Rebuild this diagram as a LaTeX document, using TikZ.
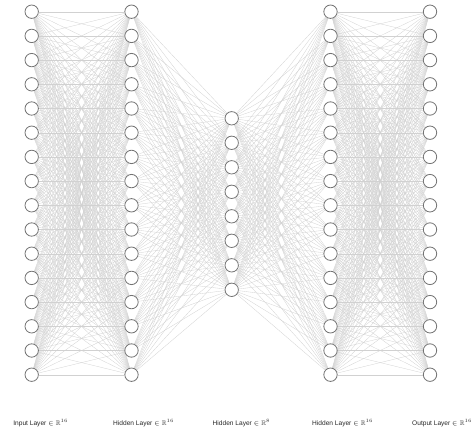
\documentclass[tikz,border=0pt]{standalone}
\usepackage{fontspec}
\setmainfont{Liberation Sans}
\usepackage{amssymb}
\usetikzlibrary{positioning,backgrounds}

\begin{document}
\begin{tikzpicture}[x=1pt,y=-1pt,
		neuron/.style={circle, minimum size=13.4pt, inner sep=0pt, draw=black!55, line width=0.8pt, fill=white},
		synapse/.style={draw=black!18, line width=0.3pt},
		layerlabel/.style={anchor=west, inner sep=0pt, font=\fontsize{6.6}{8}\selectfont, text=black!85}]
		\useasboundingbox (0,0) rectangle (474,431);
		
		% neurons: name / x / count / top / step
		\foreach \n/\x/\k/\t/\s in {a/31.7/16/11.7/24.2, b/131.5/16/11.7/24.2, c/231.7/8/118.3/24.5, d/330.5/16/11.7/24.2, e/430/16/11.7/24.2}
		\foreach \i in {1,...,\k}
		\node[neuron] (\n\i) at (\x,{\t+(\i-1)*\s}) {};
		
		% synapses
		\begin{scope}[on background layer]
			\foreach \i in {1,...,16}
			\foreach \j in {1,...,16}
			{\draw[synapse] (a\i) -- (b\j);
				\draw[synapse] (d\i) -- (e\j);}
			\foreach \i in {1,...,16}
			\foreach \j in {1,...,8}
			{\draw[synapse] (b\i) -- (c\j);
				\draw[synapse] (c\j) -- (d\i);}
		\end{scope}
		
		\node[layerlabel] (la) at (13.2,423.3) {Input Layer $\in \mathbb{R}^{16}$};
		\node[layerlabel] (lb) at (113,423.3) {Hidden Layer $\in \mathbb{R}^{16}$};
		\node[layerlabel] (lc) at (212.5,423.3) {Hidden Layer $\in \mathbb{R}^{8}$};
		\node[layerlabel] (ld) at (312,423.3) {Hidden Layer $\in \mathbb{R}^{16}$};
		\node[layerlabel] (le) at (412,423.3) {Output Layer $\in \mathbb{R}^{16}$};
	\end{tikzpicture}
\end{document}
